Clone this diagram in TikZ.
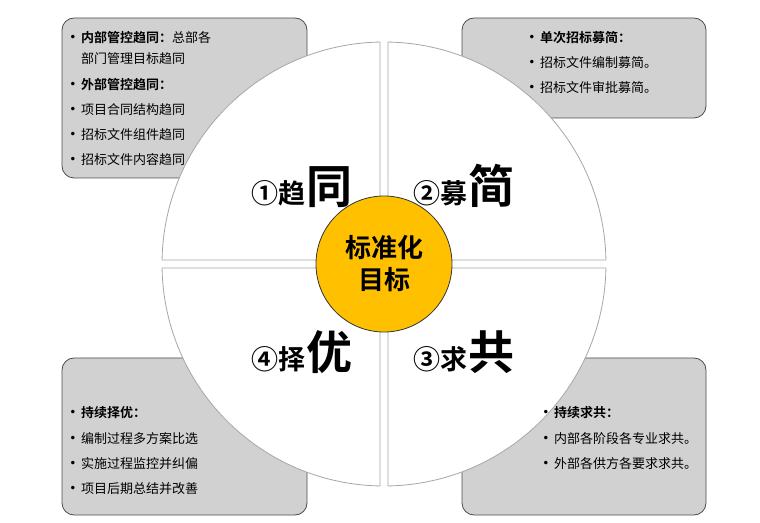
\documentclass[tikz,border=0pt]{standalone}
\usepackage{fontspec}
\setmainfont{Noto Sans CJK SC}
\newfontfamily\cjkb{Noto Sans CJK SC Bold}
\newfontfamily\dejav{DejaVu Sans}
\definecolor{goldy}{HTML}{FFC000}
\begin{document}
\begin{tikzpicture}[x=1pt,y=1pt,
  infobox/.style={draw=black!70,line width=0.8pt,fill=black!18,rounded corners=12pt},
  quad/.style={draw=black!35,line width=0.8pt,fill=white},
  ln/.style={anchor=west,inner sep=0pt,font=\fontsize{13}{15}\selectfont},
  bul/.style={anchor=center,inner sep=0pt,font=\dejav\fontsize{12}{14}\selectfont},
  big/.style={inner sep=0pt,font=\cjkb\fontsize{46}{48}\selectfont},
  small/.style={inner sep=0pt,font=\cjkb\fontsize{27}{29}\selectfont}]
\useasboundingbox (0,0) rectangle (760,522);
\draw[infobox] (62,504) rectangle (307,344);
\draw[infobox] (462,504) rectangle (706,404);
\draw[infobox] (62,164) rectangle (307,7);
\draw[infobox] (462,164) rectangle (706,7);
\begin{scope}[shift={(384,258)}]
\draw[quad] (-4,4) -- (91.03:222) arc[start angle=91.03,end angle=178.97,radius=222] -- cycle;
\draw[quad] (4,4) -- (1.03:222) arc[start angle=1.03,end angle=88.97,radius=222] -- cycle;
\draw[quad] (-4,-4) -- (181.03:222) arc[start angle=181.03,end angle=268.97,radius=222] -- cycle;
\draw[quad] (4,-4) -- (271.03:222) arc[start angle=271.03,end angle=358.97,radius=222] -- cycle;
\end{scope}
\node[draw=black!80,line width=0.8pt,fill=goldy,circle,minimum size=136pt,align=center,
  font=\cjkb\fontsize{26}{32}\selectfont] (core) at (384,258) {标准化\\目标};
\node[small,anchor=base east] (l1a) at (306,318) {①趋};
\node[big,anchor=base west] (l1b) at (l1a.base east) {同};
\node[small,anchor=base east] (l2a) at (468,318) {②募};
\node[big,anchor=base west] (l2b) at (l2a.base east) {简};
\node[small,anchor=base east] (l4a) at (306,152) {④择};
\node[big,anchor=base west] (l4b) at (l4a.base east) {优};
\node[small,anchor=base east] (l3a) at (468,152) {③求};
\node[big,anchor=base west] (l3b) at (l3a.base east) {共};
\node[bul] (b1) at (73,484) {•};
\node[ln] (t1) at (81,484) {{\cjkb 内部管控趋同：}总部各};
\node[ln] (t2) at (81,463) {部门管理目标趋同};
\node[bul] (b3) at (73,437) {•};
\node[ln] (t3) at (81,437) {\cjkb 外部管控趋同：};
\node[bul] (b4) at (73,412) {•};
\node[ln] (t4) at (81,412) {项目合同结构趋同};
\node[bul] (b5) at (73,387) {•};
\node[ln] (t5) at (81,387) {招标文件组件趋同};
\node[bul] (b6) at (73,362) {•};
\node[ln] (t6) at (81,362) {招标文件内容趋同};
\node[bul] (r1b) at (532,484) {•};
\node[ln] (r1) at (540,484) {\cjkb 单次招标募简：};
\node[bul] (r2b) at (532,459) {•};
\node[ln] (r2) at (540,459) {招标文件编制募简。};
\node[bul] (r3b) at (532,434) {•};
\node[ln] (r3) at (540,434) {招标文件审批募简。};
\node[bul] (s1b) at (73,109) {•};
\node[ln] (s1) at (81,109) {\cjkb 持续择优：};
\node[bul] (s2b) at (73,83) {•};
\node[ln] (s2) at (81,83) {编制过程多方案比选};
\node[bul] (s3b) at (73,58) {•};
\node[ln] (s3) at (81,58) {实施过程监控并纠偏};
\node[bul] (s4b) at (73,33) {•};
\node[ln] (s4) at (81,33) {项目后期总结并改善};
\node[bul] (u1b) at (546,109) {•};
\node[ln] (u1) at (554,109) {\cjkb 持续求共：};
\node[bul] (u2b) at (546,83) {•};
\node[ln] (u2) at (554,83) {内部各阶段各专业求共。};
\node[bul] (u3b) at (546,58) {•};
\node[ln] (u3) at (554,58) {外部各供方各要求求共。};
\end{tikzpicture}
\end{document}
